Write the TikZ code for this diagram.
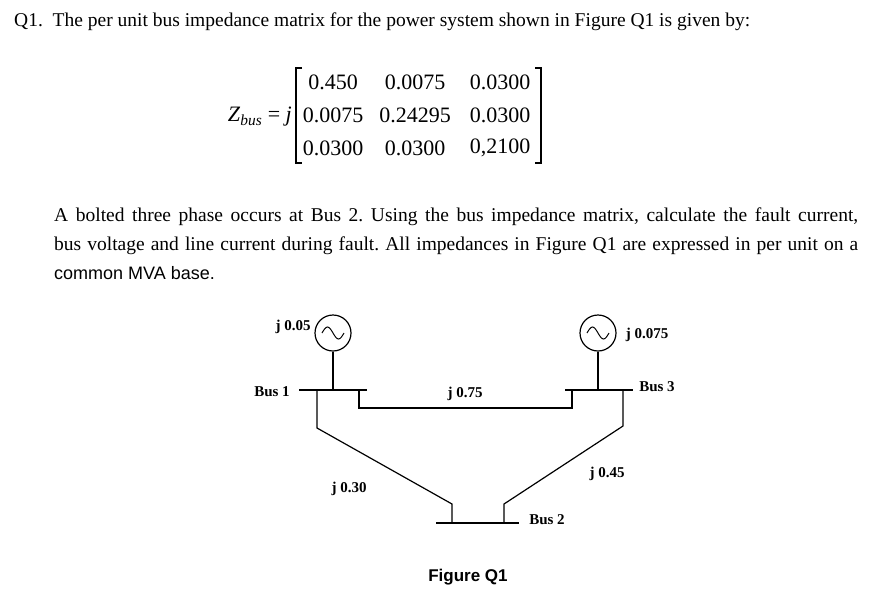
\documentclass[tikz,border=0pt]{standalone}
\usepackage{fontspec}
\setmainfont{Liberation Serif}
\setsansfont{Liberation Sans}
\begin{document}
\frenchspacing
\begin{tikzpicture}[x=1pt,y=-1pt,
  txt/.style={font=\fontsize{19.5}{29}\selectfont,inner sep=0pt},
  num/.style={font=\fontsize{22}{24}\selectfont,inner sep=0pt},
  lab/.style={font=\bfseries\fontsize{15}{17}\selectfont,inner sep=0pt},
  wire/.style={line width=1.2pt},
  gen/.style={circle,draw,line width=1.2pt,minimum size=36pt,inner sep=0pt}]
\useasboundingbox (0,0) rectangle (894,598);
\node[txt,anchor=west] (q) at (14,22) {Q1.\ \ The per unit bus impedance matrix for the power system shown in Figure Q1 is given by:};
% matrix
\node[num,anchor=east] (z) at (292,117) {\textit{Z}\textsubscript{\textit{bus}} = \textit{j}};
\node[num] (a11) at (333,82) {0.450};
\node[num] (a12) at (415,82) {0.0075};
\node[num] (a13) at (500,82) {0.0300};
\node[num] (a21) at (333,115) {0.0075};
\node[num] (a22) at (415,115) {0.24295};
\node[num] (a23) at (500,115) {0.0300};
\node[num] (a31) at (333,148) {0.0300};
\node[num] (a32) at (415,148) {0.0300};
\node[num] (a33) at (500,148) {0,2100};
\draw[line width=1.3pt] (302,68) -- (296,68) -- (296,163) -- (302,163);
\draw[line width=1.3pt] (535,68) -- (541,68) -- (541,163) -- (535,163);
% paragraph
\node[txt,anchor=north west,text width=804pt,align=justify] (p) at (54,208)
 {A bolted three phase occurs at Bus 2. Using the bus impedance matrix, calculate the fault current, bus voltage and line current during fault. All impedances in Figure Q1 are expressed in per unit on a \linebreak {\sffamily\fontsize{18}{29}\selectfont common MVA base.}};
% diagram
\node[gen] (g1) at (333,333) {};
\node[gen] (g3) at (598,333) {};
\foreach \g in {g1,g3}{\draw[line width=1pt,shift={(\g.center)}] (-11,0) sin (-5.5,-6) cos (0,0) sin (5.5,6) cos (11,0);}
\coordinate (b1l) at (299,390); \coordinate (b1r) at (367,390);
\coordinate (b3l) at (565,390); \coordinate (b3r) at (633,390);
\coordinate (b2l) at (436,523); \coordinate (b2r) at (519,523);
\draw[wire] (b1l) -- (b1r); \draw[wire] (b3l) -- (b3r); \draw[wire] (b2l) -- (b2r);
\draw[wire] (g1.south) -- (333,390);
\draw[wire] (g3.south) -- (598,390);
\draw[wire] (359,390) -- (359,408) -- (572,408) -- (572,390);
\draw[wire] (317,390) -- (317,428) -- (452,504) -- (452,523);
\draw[wire] (504,523) -- (504,504) -- (623,426) -- (623,390);
\node[lab] (l1) at (293,327) {j 0.05};
\node[lab] (l3) at (647,335) {j 0.075};
\node[lab] (bus1) at (272,392) {Bus 1};
\node[lab] (bus3) at (657,387) {Bus 3};
\node[lab] (l13) at (465,394) {j 0.75};
\node[lab] (l12) at (349,489) {j 0.30};
\node[lab] (l23) at (607,474) {j 0.45};
\node[lab] (bus2) at (547,520) {Bus 2};
\node[font=\sffamily\bfseries\fontsize{17}{19}\selectfont,inner sep=0pt] (fig) at (468,577) {Figure Q1};
\end{tikzpicture}
\end{document}
